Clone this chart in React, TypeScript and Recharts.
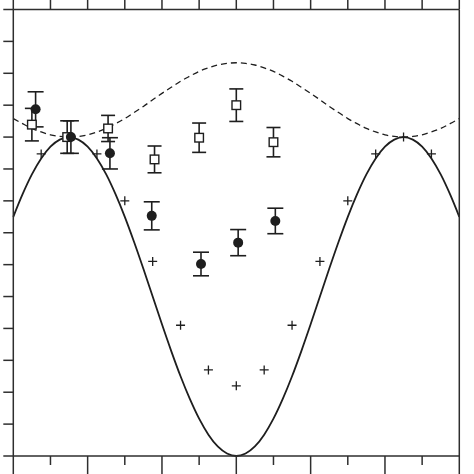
import React from 'react';
import { ComposedChart, Line, Scatter, XAxis, YAxis, ErrorBar } from 'recharts';

// angle grid for the two model curves (degrees)
const THETA = [
  0, 5, 10, 15, 20, 25, 30, 35, 40, 45, 50, 55, 60, 65, 70, 75, 80, 85, 90, 95, 100, 105, 110, 115, 120,
  125, 130, 135, 140, 145, 150, 155, 160, 165, 170, 175, 180, 185, 190, 195, 200, 205, 210, 215, 220, 225,
  230, 235, 240,
];
const SOLID = [
  0.75, 0.821, 0.883, 0.933, 0.97, 0.992, 1.0, 0.992, 0.97, 0.933, 0.883, 0.821, 0.75, 0.671, 0.587, 0.5,
  0.413, 0.329, 0.25, 0.179, 0.117, 0.067, 0.03, 0.008, 0, 0.008, 0.03, 0.067, 0.117, 0.179, 0.25, 0.329,
  0.413, 0.5, 0.587, 0.671, 0.75, 0.821, 0.883, 0.933, 0.97, 0.992, 1.0, 0.992, 0.97, 0.933, 0.883, 0.821,
  0.75,
];
const DASHED = [
  1.058, 1.042, 1.027, 1.016, 1.007, 1.002, 1.0, 1.002, 1.007, 1.016, 1.027, 1.042, 1.058, 1.077, 1.096,
  1.117, 1.137, 1.156, 1.175, 1.191, 1.206, 1.217, 1.226, 1.231, 1.233, 1.231, 1.226, 1.217, 1.206, 1.191,
  1.175, 1.156, 1.137, 1.117, 1.096, 1.077, 1.058, 1.042, 1.027, 1.016, 1.007, 1.002, 1.0, 1.002, 1.007,
  1.016, 1.027, 1.042, 1.058,
];

// "+" points
const PLUS_THETA = [15, 30, 45, 60, 75, 90, 105, 120, 135, 150, 165, 180, 195, 210, 225];
const PLUS_VALUES = [0.947, 1.0, 0.947, 0.8, 0.61, 0.41, 0.27, 0.22, 0.27, 0.41, 0.61, 0.8, 0.947, 1.0, 0.947];

// filled circles with error bars
const CIRCLE_THETA = [12, 31, 52, 74.5, 101, 121, 141];
const CIRCLE_VALUES = [1.087, 1.0, 0.949, 0.753, 0.602, 0.669, 0.737];
const CIRCLE_ERR = [0.055, 0.051, 0.049, 0.044, 0.037, 0.041, 0.04];

// open squares with error bars
const SQUARE_THETA = [10, 29, 51, 76, 100, 120, 140];
const SQUARE_VALUES = [1.039, 1.0, 1.027, 0.93, 0.998, 1.1, 0.984];
const SQUARE_ERR = [0.051, 0.051, 0.041, 0.042, 0.046, 0.051, 0.046];

const X_TICKS = [0, 20, 40, 60, 80, 100, 120, 140, 160, 180, 200, 220, 240];
const X_MAJOR = [0, 40, 80, 120, 160, 200, 240];
const Y_TICKS = [0, 0.1, 0.2, 0.3, 0.4, 0.5, 0.6, 0.7, 0.8, 0.9, 1.0, 1.1, 1.2, 1.3, 1.4];

const INK = '#1e1e1e';
const AXIS = '#2e2e2e';
const MARGIN = { top: 8.5, right: 13.7, bottom: 17, left: 12.3 };
const PLOT_TOP = MARGIN.top + 1;

const curveData = THETA.map((t, i) => ({ theta: t, solid: SOLID[i], dashed: DASHED[i] }));
const plusData = PLUS_THETA.map((t, i) => ({ theta: t, v: PLUS_VALUES[i] }));
const circleData = CIRCLE_THETA.map((t, i) => ({ theta: t, v: CIRCLE_VALUES[i], err: CIRCLE_ERR[i] }));
const squareData = SQUARE_THETA.map((t, i) => ({ theta: t, v: SQUARE_VALUES[i], err: SQUARE_ERR[i] }));

const PlusShape = (p: any) => (
  <path
    d={`M${p.cx - 4.5},${p.cy}H${p.cx + 4.5}M${p.cx},${p.cy - 4.5}V${p.cy + 4.5}`}
    stroke={INK}
    strokeWidth={1.3}
    fill="none"
  />
);

const SquareShape = (p: any) => (
  <rect x={p.cx - 4.3} y={p.cy - 4.3} width={8.6} height={8.6} fill="#fff" stroke={INK} strokeWidth={1.4} />
);

const CircleShape = (p: any) => <circle cx={p.cx} cy={p.cy} r={5} fill={INK} />;

// tick marks drawn by hand (labels are absent in the figure); the top ticks ride along with the bottom ones
const BottomTick = (p: any) => {
  const len = X_MAJOR.includes(p.payload.value) ? 20 : 9;
  return (
    <g>
      <line x1={p.x} x2={p.x} y1={p.y} y2={p.y + len} stroke={AXIS} strokeWidth={1.5} />
      <line x1={p.x} x2={p.x} y1={PLOT_TOP} y2={PLOT_TOP - 12} stroke={AXIS} strokeWidth={1.5} />
    </g>
  );
};
const LeftTick = (p: any) => <line x1={p.x} x2={p.x - 10} y1={p.y} y2={p.y} stroke={AXIS} strokeWidth={1.5} />;
const RightTick = (p: any) => <line x1={p.x} x2={p.x + 10} y1={p.y} y2={p.y} stroke={AXIS} strokeWidth={1.5} />;

const axisLine = { stroke: AXIS, strokeWidth: 1.5 };

export default function App() {
  return (
    <div style={{ position: 'absolute', left: 0, top: 0, background: '#fff' }}>
      <ComposedChart width={474} height={474} margin={MARGIN}>
        <XAxis
          xAxisId="b"
          dataKey="theta"
          type="number"
          domain={[0, 240]}
          ticks={X_TICKS}
          interval={0}
          tickSize={0}
          tickMargin={0}
          tick={BottomTick}
          height={1}
          axisLine={axisLine}
          tickLine={false}
        />
        <XAxis
          xAxisId="t"
          orientation="top"
          dataKey="theta"
          type="number"
          domain={[0, 240]}
          ticks={X_TICKS}
          tickSize={10}
          tick={false}
          height={1}
          axisLine={axisLine}
        />
        <YAxis
          yAxisId="l"
          type="number"
          domain={[0, 1.4]}
          ticks={Y_TICKS}
          interval={0}
          tickSize={0}
          tickMargin={0}
          tick={LeftTick}
          width={1}
          axisLine={axisLine}
          tickLine={false}
        />
        <YAxis
          yAxisId="r"
          orientation="right"
          type="number"
          domain={[0, 1.4]}
          ticks={Y_TICKS}
          interval={0}
          tickSize={0}
          tickMargin={0}
          tick={RightTick}
          width={1}
          axisLine={axisLine}
          tickLine={false}
        />

        <Line
          xAxisId="b"
          yAxisId="l"
          data={curveData}
          dataKey="dashed"
          type="monotone"
          stroke={INK}
          strokeWidth={1.3}
          strokeDasharray="6 4"
          dot={false}
          activeDot={false}
          isAnimationActive={false}
        />
        <Line
          xAxisId="b"
          yAxisId="l"
          data={curveData}
          dataKey="solid"
          type="monotone"
          stroke={INK}
          strokeWidth={1.8}
          dot={false}
          activeDot={false}
          isAnimationActive={false}
        />
        <Scatter xAxisId="b" yAxisId="l" data={plusData} dataKey="v" shape={PlusShape} isAnimationActive={false} />
        <Scatter xAxisId="b" yAxisId="l" data={squareData} dataKey="v" shape={SquareShape} isAnimationActive={false}>
          <ErrorBar dataKey="err" direction="y" width={7} stroke={INK} strokeWidth={1.6} />
        </Scatter>
        <Scatter xAxisId="b" yAxisId="l" data={circleData} dataKey="v" shape={CircleShape} isAnimationActive={false}>
          <ErrorBar dataKey="err" direction="y" width={8} stroke={INK} strokeWidth={1.6} />
        </Scatter>
      </ComposedChart>
    </div>
  );
}
